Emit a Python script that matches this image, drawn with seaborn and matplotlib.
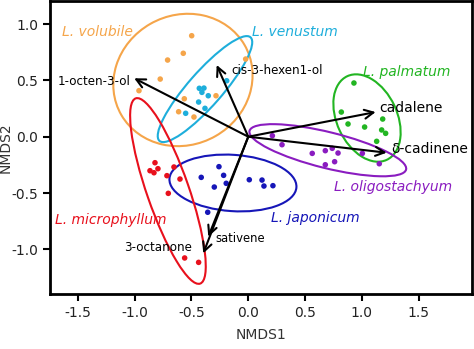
import numpy as np
import pandas as pd
import seaborn as sns
import matplotlib
matplotlib.use("Agg")
import matplotlib.pyplot as plt
from matplotlib.patches import Ellipse

sns.set_style("white")
plt.rcParams['font.family'] = ['DejaVu Sans']
plt.rcParams['axes.unicode_minus'] = False

# ---- data ----
volubile_x = [-0.498, -0.572, -0.710, -0.775, -0.962, -0.023, -0.284, -0.563, -0.613, -0.478]
volubile_y = [0.897, 0.741, 0.681, 0.512, 0.409, 0.690, 0.364, 0.337, 0.222, 0.175]
venustum_x = [-0.431, -0.390, -0.408, -0.352, -0.437, -0.381, -0.551, -0.190]
venustum_y = [0.430, 0.432, 0.394, 0.364, 0.308, 0.252, 0.208, 0.497]
palmatum_x = [0.930, 0.819, 0.878, 1.024, 1.183, 1.174, 1.209, 1.130]
palmatum_y = [0.477, 0.219, 0.113, 0.086, 0.157, 0.060, 0.030, -0.041]
oligo_x = [0.212, 0.297, 0.563, 0.678, 0.739, 0.790, 1.004, 0.678, 0.760, 1.153]
oligo_y = [0.009, -0.071, -0.148, -0.124, -0.103, -0.145, -0.148, -0.249, -0.222, -0.240]
japonicum_x = [-0.258, -0.414, -0.217, -0.194, -0.299, 0.009, -0.357, 0.121, 0.138, 0.217]
japonicum_y = [-0.266, -0.361, -0.343, -0.414, -0.447, -0.382, -0.671, -0.385, -0.438, -0.435]
micro_x = [-0.821, -0.865, -0.830, -0.795, -0.654, -0.716, -0.601, -0.704, -0.560, -0.437]
micro_y = [-0.231, -0.302, -0.320, -0.284, -0.269, -0.346, -0.376, -0.503, -1.077, -1.116]

species = ["L. volubile", "L. venustum", "L. palmatum", "L. oligostachyum", "L. japonicum", "L. microphyllum"]
colors = ["#F5A54A", "#1EAEDB", "#22B522", "#8A1CC0", "#1616B8", "#E8101C"]

# ellipses (center x, center y, width, height, angle)
ell_cx = [-0.575, -0.381, 1.045, 0.70, -0.135, -0.707]
ell_cy = [0.504, 0.423, 0.166, -0.12, -0.411, -0.482]
ell_w = [1.25, 1.22, 0.82, 1.42, 1.12, 1.74]
ell_h = [1.15, 0.30, 0.53, 0.32, 0.50, 0.37]
ell_a = [30, 49, -65, -14, -4, -71]

# species label positions
lab_x = [-1.643, 0.03, 1.013, 0.757, 0.20, -1.702]
lab_y = [0.927, 0.927, 0.577, -0.449, -0.725, -0.740]

# vectors
vec_names = ["1-octen-3-ol", "cis-3-hexen1-ol", "cadalene", "δ-cadinene", "sativene", "3-octanone"]
vec_x = [-1.004, -0.278, 1.121, 1.218, -0.352, -0.396]
vec_y = [0.519, 0.637, 0.219, -0.142, -0.888, -1.036]
vlab_x = [-1.04, -0.146, 1.154, 1.254, -0.287, -0.498]
vlab_y = [0.49, 0.586, 0.252, -0.109, -0.902, -0.986]
vlab_ha = ["right", "left", "left", "left", "left", "right"]
vlab_size = [8.6, 8.6, 10, 10, 8.4, 8.6]

xs = [volubile_x, venustum_x, palmatum_x, oligo_x, japonicum_x, micro_x]
ys = [volubile_y, venustum_y, palmatum_y, oligo_y, japonicum_y, micro_y]
df = pd.DataFrame({
    "NMDS1": np.concatenate(xs),
    "NMDS2": np.concatenate(ys),
    "species": np.concatenate([[s] * len(x) for s, x in zip(species, xs)]),
})

fig = plt.figure(figsize=(4.74, 3.49), dpi=100)
ax = fig.add_axes([0.1055, 0.1576, 0.8905, 0.8394])

sns.scatterplot(data=df, x="NMDS1", y="NMDS2", hue="species", hue_order=species,
                palette=colors, s=16, linewidth=0, legend=False, ax=ax, zorder=3)

for i in range(len(species)):
    e = Ellipse((ell_cx[i], ell_cy[i]), ell_w[i], ell_h[i], angle=ell_a[i],
                fill=False, edgecolor=colors[i], linewidth=1.5, zorder=2)
    ax.add_patch(e)
    ax.text(lab_x[i], lab_y[i], species[i], color=colors[i], fontsize=10,
            fontstyle="italic", ha="left", va="center", zorder=5)

for i in range(len(vec_names)):
    ax.annotate("", xy=(vec_x[i], vec_y[i]), xytext=(0, 0),
                arrowprops=dict(arrowstyle="->", color="black", lw=1.5,
                                mutation_scale=16, shrinkA=0, shrinkB=0), zorder=4)
    ax.text(vlab_x[i], vlab_y[i], vec_names[i], fontsize=vlab_size[i], color="black",
            ha=vlab_ha[i], va="center", zorder=5)

ax.set_xlim(-1.745, 1.97)
ax.set_ylim(-1.397, 1.205)
ax.set_xticks([-1.5, -1.0, -0.5, 0.0, 0.5, 1.0, 1.5])
ax.set_yticks([-1.0, -0.5, 0.0, 0.5, 1.0])
ax.set_xticklabels(["-1.5", "-1.0", "-0.5", "0.0", "0.5", "1.0", "1.5"])
ax.set_yticklabels(["-1.0", "-0.5", "0.0", "0.5", "1.0"])
ax.tick_params(direction="out", length=5, width=1.5, labelsize=10, color="black",
               labelcolor="#222222", left=True, bottom=True)
for sp in ax.spines.values():
    sp.set_visible(True)
    sp.set_color("black")
    sp.set_linewidth(2)
ax.set_xlabel("NMDS1", fontsize=10, color="#333333", labelpad=6)
ax.set_ylabel("NMDS2", fontsize=10, color="#333333")
ax.yaxis.set_label_coords(-0.088, 0.5)

fig.savefig("out.png", dpi=100)
